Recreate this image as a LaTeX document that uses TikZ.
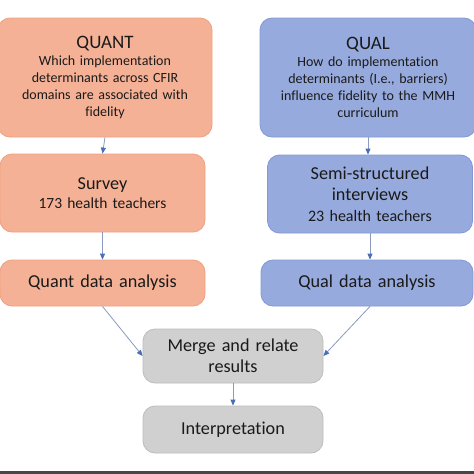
\documentclass[tikz,border=0pt]{standalone}
\usepackage{fontspec}
\setmainfont{Carlito}[Ligatures=NoCommon]
\usetikzlibrary{arrows.meta,calc}
\definecolor{orfill}{HTML}{F5B195}
\definecolor{ordraw}{HTML}{F0A080}
\definecolor{blfill}{HTML}{97AADD}
\definecolor{bldraw}{HTML}{8299D6}
\definecolor{grfill}{HTML}{D0D0D0}
\definecolor{grdraw}{HTML}{BDBDBD}
\definecolor{arrline}{HTML}{8A9BBF}
\definecolor{arrhead}{HTML}{4A6FB5}
\definecolor{textcol}{HTML}{1A1A1A}
\tikzset{
  boxbase/.style={rectangle, rounded corners=12pt, inner sep=0pt, align=center, text=textcol, line width=0.8pt, text width=205pt},
  obox/.style={boxbase, fill=orfill, draw=ordraw},
  bbox/.style={boxbase, fill=blfill, draw=bldraw},
  gbox/.style={boxbase, fill=grfill, draw=grdraw},
  conn/.style={draw=arrline, line width=0.8pt, -{Triangle[length=6pt,width=5pt,color=arrhead]}},
}
\newcommand{\fontbig}{\fontsize{19}{16}\selectfont}
\newcommand{\fontmid}{\fontsize{18.2}{21}\selectfont}
\newcommand{\fontsm}{\fontsize{14}{17}\selectfont}
\newcommand{\fontnum}{\fontsize{15.5}{19}\selectfont}
\newcommand{\fontnumb}{\fontsize{16}{20.5}\selectfont}
\begin{document}
\begin{tikzpicture}[x=1pt,y=-1pt]
\useasboundingbox (0,0) rectangle (474,474);
\fill[white] (0,0) rectangle (474,474);
\fill[black!72] (0,471) rectangle (474,474);

\node[obox, minimum width=214pt, minimum height=119pt, font=\fontsm] (quant) at (105,77.5)
  {{\fontbig QUANT\par}Which implementation\\ determinants across CFIR\\ domains are associated with\\ fidelity\par};
\node[bbox, minimum width=216pt, minimum height=119pt, font=\fontsm] (qual) at (368,77.5)
  {{\fontbig QUAL\par}How do implementation\\ determinants (I.e., barriers)\\ influence fidelity to the MMH\\ curriculum\par};

\node[obox, minimum width=199pt, minimum height=78pt, font=\fontnum] (survey) at (102.5,193)
  {{\fontmid Survey\par}173 health teachers\par};
\node[bbox, minimum width=200pt, minimum height=78pt, font=\fontnumb] (semi) at (370,194)
  {{\fontmid Semi-structured\\ interviews\par}23 health teachers\par};

\node[obox, minimum width=199pt, minimum height=46pt, font=\fontmid] (qa) at (102.5,283)
  {Quant data analysis};
\node[bbox, minimum width=212pt, minimum height=46pt, font=\fontmid] (qla) at (367,283)
  {Qual data analysis};

\node[gbox, minimum width=180pt, minimum height=54pt, font=\fontmid, text width=170pt] (merge) at (233,356)
  {Merge and relate\\ results\par};
\node[gbox, minimum width=180pt, minimum height=47pt, font=\fontmid, text width=170pt] (interp) at (233,429.5)
  {Interpretation};

\draw[conn] (quant.south) -- (survey.north);
\draw[conn] (qual.south) -- (qual.south |- semi.north);
\draw[conn] (survey.south) -- (qa.north);
\draw[conn] (semi.south) -- (semi.south |- qla.north);
\draw[conn] (qa.south) -- (merge.west);
\draw[conn] (semi.south |- qla.south) -- (merge.east);
\draw[conn] (merge.south) -- (interp.north);
\end{tikzpicture}
\end{document}
